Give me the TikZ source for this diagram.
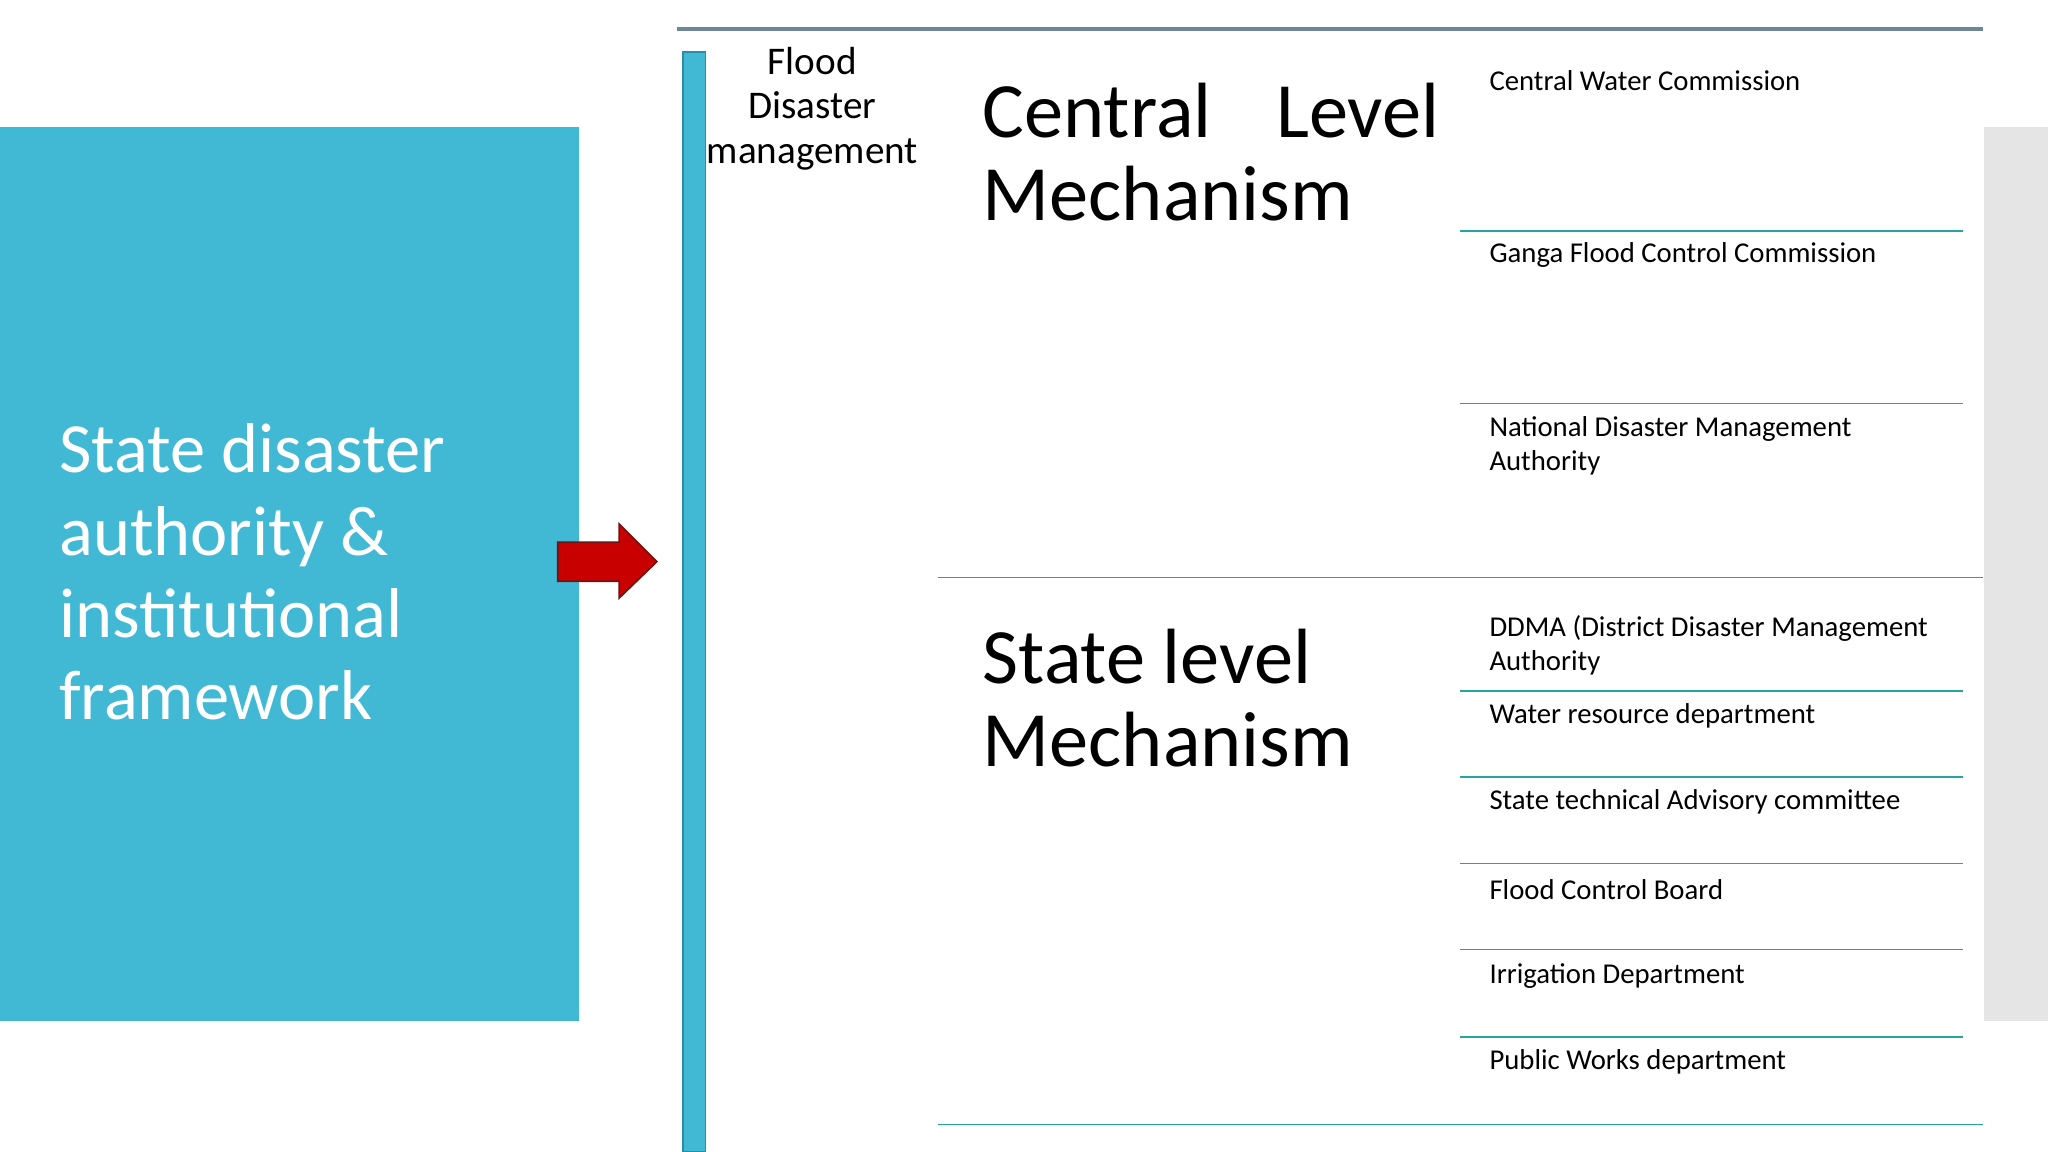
\documentclass[tikz,border=0pt]{standalone}
\usepackage{fontspec}
\setmainfont{Carlito}
\begin{document}
\begin{tikzpicture}[x=0.5pt,y=-0.5pt,
  sep/.style={draw=teal!60!cyan!70!gray,line width=0.6pt},
  item/.style={anchor=west,font=\fontsize{11}{13}\selectfont,align=left,inner sep=0pt},
  big/.style={anchor=north west,font=\fontsize{30}{32}\selectfont,align=left,inner sep=0pt}]
\useasboundingbox (0,0) rectangle (1568,882);
\fill[white] (0,0) rectangle (1568,882);
\fill[black!10] (1519,97) rectangle (1568,782);
\fill[cyan!60!blue!50!teal!80!white] (0,97) rectangle (443,782);
\fill[fill={rgb,255:red,65;green,185;blue,213}] (0,97) rectangle (443,782);
\node[anchor=west,text=white,align=left,inner sep=0pt,font=\fontsize{27}{31.5}\selectfont] (title) at (45,438) {State disaster\\authority \&\\institutional\\framework};
\draw[fill={rgb,255:red,200;green,0;blue,0},draw={rgb,255:red,110;green,20;blue,20},line width=0.6pt]
 (427,415) -- (474,415) -- (474,401) -- (503,430) -- (474,458) -- (474,445) -- (427,445) -- cycle;
\node[align=center,inner sep=0pt,font=\fontsize{15}{17}\selectfont] (fdm) at (622,83) {Flood\\Disaster\\management};
\fill[white] (500,30) rectangle (523,140);
\draw[fill={rgb,255:red,65;green,185;blue,213},draw={rgb,255:red,40;green,140;blue,170},line width=0.6pt] (523,40) rectangle (540,882);
\draw[draw={rgb,255:red,110;green,135;blue,150},line width=1.5pt] (518,22) -- (1518,22);
\node[big] (cl) at (752,63) {Central\hspace{0.6em} Level\\Mechanism};
\node[big] (sl) at (752,481) {State level\\Mechanism};
\draw[sep] (718,442) -- (1518,442);
\draw[sep] (718,861) -- (1518,861);
\foreach \y in {177,309,529,595,661,727,794} \draw[sep] (1118,\y) -- (1503,\y);
\node[item] (a1) at (1140,62) {Central Water Commission};
\node[item] (a2) at (1140,195) {Ganga Flood Control Commission};
\node[item] (a3) at (1140,341) {National Disaster Management\\Authority};
\node[item] (b1) at (1140,494) {DDMA (District Disaster Management\\Authority};
\node[item] (b2) at (1140,548) {Water resource department};
\node[item] (b3) at (1140,614) {State technical Advisory committee};
\node[item] (b4) at (1140,681) {Flood Control Board};
\node[item] (b5) at (1140,747) {Irrigation Department};
\node[item] (b6) at (1140,813) {Public Works department};
\end{tikzpicture}
\end{document}
